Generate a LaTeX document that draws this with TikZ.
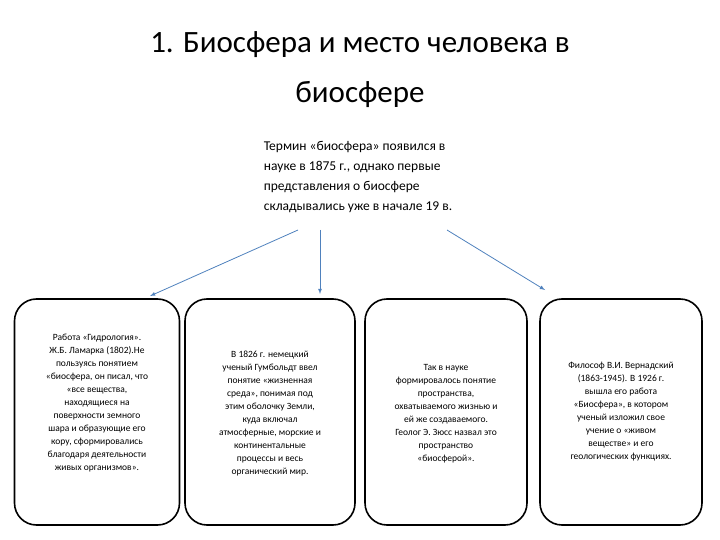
\documentclass[tikz,border=0pt]{standalone}
\usepackage{fontspec}
\setmainfont{Carlito}
\begin{document}
\begin{tikzpicture}[x=1pt,y=-1pt,
 card/.style={draw=black,line width=1.6pt,rounded corners=22pt},
 ctext/.style={align=center,font=\fontsize{9.5}{13}\selectfont},
 arr/.style={draw={rgb,255:red,79;green,129;blue,189},line width=0.8pt,-latex}]
\useasboundingbox (0,0) rectangle (720,540);
\node (t) at (360,70) [align=center,font=\fontsize{31}{50}\selectfont] {1. Биосфера и место человека в\\биосфере};
\node (i) at (358,177) [align=left,font=\fontsize{13.5}{20}\selectfont] {Термин «биосфера» появился в\\науке в 1875 г., однако первые\\представления о биосфере\\складывались уже в начале 19 в.};
\node[card,minimum width=165pt,minimum height=226pt] (b1) at (97,412) {};
\node[card,minimum width=170pt,minimum height=226pt] (b2) at (270,412) {};
\node[card,minimum width=162pt,minimum height=226pt] (b3) at (446,412) {};
\node[card,minimum width=162pt,minimum height=226pt] (b4) at (621,412) {};
\node[ctext] (x1) at (97,403) {Работа «Гидрология».\\Ж.Б. Ламарка (1802).Не\\пользуясь понятием\\«биосфера, он писал, что\\«все вещества,\\находящиеся на\\поверхности земного\\шара и образующие его\\кору, сформировались\\благодаря деятельности\\живых организмов».};
\node[ctext] (x2) at (270,414) {В 1826 г. немецкий\\ученый Гумбольдт ввел\\понятие «жизненная\\среда», понимая под\\этим оболочку Земли,\\куда включал\\атмосферные, морские и\\континентальные\\процессы и весь\\органический мир.};
\node[ctext] (x3) at (446,414) {Так в науке\\формировалось понятие\\пространства,\\охватываемого жизнью и\\ей же создаваемого.\\Геолог Э. Зюсс назвал это\\пространство\\«биосферой».};
\node[ctext] (x4) at (621,412) {Философ В.И. Вернадский\\(1863-1945). В 1926 г.\\вышла его работа\\«Биосфера», в котором\\ученый изложил свое\\учение о «живом\\веществе» и его\\геологических функциях.};
\coordinate (s1) at (298,230);
\coordinate (s2) at (320,230);
\coordinate (s3) at (447,230);
\coordinate (e1) at (150,296);
\coordinate (e2) at (320,294);
\coordinate (e3) at (545,290);
\draw[arr] (s1) -- (e1);
\draw[arr] (s2) -- (e2);
\draw[arr] (s3) -- (e3);
\end{tikzpicture}
\end{document}
